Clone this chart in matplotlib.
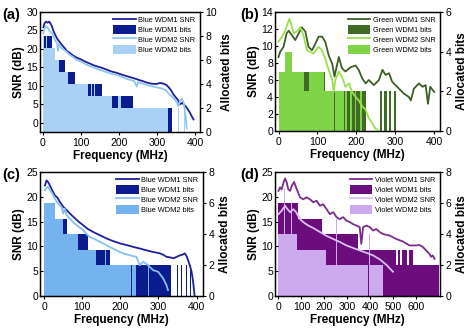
import matplotlib
matplotlib.use('Agg')
import matplotlib.pyplot as plt
from matplotlib.lines import Line2D
from matplotlib.patches import Patch

plt.rcParams['font.family'] = ['Liberation Sans', 'DejaVu Sans']

# (a) blue, two WDM channels
A_W1_FREQ = [2, 5, 9, 13, 17, 21, 24, 28, 32, 38, 45, 52, 58, 63, 70, 80, 90, 100, 107, 115,
             125, 133, 145, 155, 168, 180, 192, 203, 215, 228, 238, 250, 262, 273, 285, 299,
             308, 317, 325, 330, 337, 343, 350, 355, 360, 366, 372, 378, 385, 391, 396]
A_W1_SNR = [25.9, 27.0, 27.4, 27.1, 27.4, 26.8, 26.2, 25.0, 24.0, 22.8, 21.8, 20.9, 20.2, 19.5,
            19.0, 18.2, 17.6, 17.2, 16.8, 16.4, 16.0, 15.6, 15.2, 14.9, 14.4, 13.9, 13.6, 13.2,
            12.8, 12.4, 12.1, 11.7, 11.3, 10.9, 10.6, 10.5, 10.8, 10.6, 10.2, 9.7, 8.8, 7.7,
            6.8, 6.2, 5.0, 5.4, 4.8, 4.1, 3.0, 1.8, 0.9]
A_W2_FREQ = [2, 5, 9, 13, 17, 21, 25, 29, 33, 38, 40, 42, 48, 55, 63, 72, 80, 90, 100, 110,
             120, 133, 145, 155, 168, 180, 193, 205, 218, 230, 240, 247, 250, 262, 275, 290,
             300, 312, 322, 330, 338, 345, 352, 356, 360, 365, 370, 373, 376, 378]
A_W2_SNR = [24.3, 25.5, 26.2, 25.8, 25.0, 24.6, 24.2, 23.2, 22.3, 21.5, 19.5, 21.2, 20.4, 19.8,
            19.2, 18.3, 17.8, 17.0, 16.6, 16.0, 15.5, 15.0, 14.5, 14.2, 13.7, 13.3, 13.0, 12.5,
            12.0, 11.6, 11.3, 9.8, 11.0, 10.6, 10.2, 9.8, 9.6, 9.3, 8.9, 8.0, 7.2, 6.5, 5.6,
            4.5, 5.8, 6.5, 5.5, 3.5, 1.0, -1.5]
A_B1_EDGES = [0, 24, 32, 59, 85, 155, 238, 339]
A_B1_BITS = [8, 7, 6, 5, 4, 3, 2]
A_B2_EDGES = [0, 4, 10, 11.5, 16, 17.5, 32, 44, 47, 48.5, 67, 120, 128, 129.5, 135, 136.5,
              181, 197, 206, 330, 355, 357, 372, 374]
A_B2_BITS = [8, 7, 8, 7, 8, 7, 6, 5, 6, 5, 4, 3, 4, 3, 4, 3, 2, 3, 2, 0, 2, 0, 2]

# (b) green
B_W1_FREQ = [0, 4, 13, 21, 26, 34, 43, 52, 60, 69, 77, 86, 95, 103, 112, 120, 129, 138, 144,
             149, 155, 163, 172, 185, 198, 206, 215, 224, 232, 245, 258, 267, 275, 284, 292,
             305, 322, 335, 340, 348, 361, 370, 378, 384, 390, 400]
B_W1_SNR = [8.7, 9.3, 9.9, 11.5, 11.8, 11.3, 10.7, 11.5, 12.2, 11.7, 9.9, 9.5, 10.3, 11.1,
            11.1, 10.5, 8.9, 7.9, 6.4, 7.5, 8.7, 7.4, 7.0, 7.5, 7.7, 7.2, 6.2, 5.6, 6.0, 5.4,
            6.0, 7.2, 6.6, 6.8, 5.8, 5.2, 4.4, 4.0, 3.6, 5.0, 5.6, 5.2, 5.4, 3.2, 5.2, 4.6]
B_W2_FREQ = [0, 9, 17, 23, 28, 32, 39, 47, 56, 65, 73, 82, 90, 103, 112, 120, 129, 138, 142,
             146, 155, 163, 172, 181, 189, 198, 206, 215, 224, 232, 241, 249, 258]
B_W2_SNR = [10.5, 11.1, 11.8, 12.6, 13.2, 12.6, 11.5, 11.7, 12.2, 11.1, 9.5, 9.3, 9.1, 9.9,
            9.5, 8.5, 7.2, 6.0, 4.6, 6.0, 7.0, 6.4, 5.2, 5.6, 4.6, 4.0, 3.6, 2.9, 2.5, 1.5,
            0.9, 0.3, 0.0]
B_B1_EDGES = [0, 120, 224, 262, 267, 272, 278, 284, 290, 296, 302]
B_B1_BITS = [3, 2, 0, 2, 0, 2, 0, 2, 0, 2]
B_B2_EDGES = [0, 17, 34, 65, 78, 98, 100, 111, 113, 117, 142, 146, 168, 172, 176, 184, 188,
              196, 200, 210, 214, 224]
B_B2_BITS = [3, 4, 3, 2, 3, 2, 3, 2, 3, 2, 0, 2, 0, 2, 0, 2, 0, 2, 0, 2, 0]

# (c) blue, second link
C_W1_FREQ = [2, 6, 10, 15, 19, 28, 35, 41, 50, 59, 68, 76, 90, 102, 115, 129, 145, 164, 180,
             199, 215, 234, 250, 269, 285, 304, 313, 321, 330, 339, 348, 356, 362, 369, 374,
             378, 383, 387, 391, 395]
C_W1_SNR = [22.3, 23.3, 23.0, 22.3, 21.6, 20.3, 19.8, 19.0, 18.0, 17.3, 16.6, 16.0, 15.0,
            14.3, 13.5, 12.9, 12.3, 11.6, 11.1, 10.6, 10.3, 9.9, 9.6, 9.2, 8.9, 8.6, 8.3, 7.9,
            7.8, 7.6, 7.9, 8.2, 8.3, 8.6, 8.0, 7.2, 6.0, 4.9, 2.9, 0.0]
C_W2_FREQ = [2, 6, 10, 17, 24, 30, 37, 45, 50, 54, 59, 70, 80, 90, 102, 111, 120, 137, 155,
             172, 190, 207, 225, 242, 251, 260, 273, 286, 299, 312, 321, 325]
C_W2_SNR = [21.3, 21.8, 22.0, 21.2, 20.3, 19.4, 18.6, 18.0, 16.6, 17.6, 16.3, 15.4, 14.6,
            14.0, 13.3, 12.5, 11.9, 11.3, 10.6, 9.9, 9.2, 8.6, 8.2, 7.9, 6.2, 6.9, 6.2, 5.2,
            4.9, 3.6, 2.2, 1.2]
C_B1_EDGES = [0, 28, 59, 115, 172, 334, 340, 342, 350, 352, 360, 362, 372, 374, 383, 385]
C_B1_BITS = [6, 5, 4, 3, 2, 0, 2, 0, 2, 0, 2, 0, 2, 0, 2]
C_B2_EDGES = [0, 28, 50, 89, 137, 160, 163, 219, 221, 228, 231, 242, 272, 274]
C_B2_BITS = [6, 5, 4, 3, 2, 3, 2, 0, 2, 0, 2, 0, 2]

# (d) violet
D_W1_FREQ = [0, 7, 14, 22, 29, 36, 43, 51, 58, 68, 80, 94, 108, 123, 137, 152, 166, 181, 195,
             210, 224, 239, 253, 267, 282, 296, 311, 325, 340, 354, 361, 369, 383, 398, 412,
             426, 441, 455, 484, 513, 542, 571, 600, 614, 629, 643, 658, 665, 672, 680]
D_W1_SNR = [21.2, 21.9, 21.5, 22.9, 23.7, 22.9, 21.5, 21.2, 22.2, 23.0, 21.5, 19.9, 19.5,
            19.9, 19.5, 18.9, 19.2, 18.2, 18.5, 17.5, 16.5, 16.9, 15.9, 15.5, 15.9, 15.2,
            14.9, 14.5, 14.2, 13.9, 10.5, 13.9, 14.2, 13.9, 13.2, 13.5, 12.9, 12.5, 12.2,
            11.5, 11.0, 10.2, 10.2, 10.3, 9.9, 9.2, 8.5, 7.9, 8.2, 7.5]
D_W2_FREQ = [0, 14, 29, 36, 51, 65, 77, 94, 108, 130, 152, 181, 210, 239, 267, 296, 325, 354,
             383, 412, 441, 470, 499]
D_W2_SNR = [16.5, 17.2, 18.2, 17.7, 16.9, 17.5, 16.9, 15.5, 14.9, 14.2, 13.7, 12.9, 12.1,
            11.5, 10.9, 10.2, 9.7, 9.2, 8.7, 8.2, 7.4, 6.3, 4.9]
D_B1_EDGES = [0, 87, 188, 345, 513, 520, 530, 540, 560, 568, 585, 700]
D_B1_BITS = [6, 5, 4, 3, 2, 3, 2, 3, 2, 3, 2]
D_B2_EDGES = [0, 26, 29, 56, 60, 80, 205, 251, 255, 380, 382, 392, 395, 398, 455]
D_B2_BITS = [4, 7, 4, 6, 4, 3, 2, 5, 2, 0, 2, 0, 4, 2]


def draw_panel(fig, rect, tag, name, w1, w2, b1, b2, colors, xlim, xticks,
               ylim, yticks, y2lim, y2ticks, label_xy):
    ax = fig.add_axes(rect)
    ax2 = ax.twinx()
    # bits go behind the SNR traces
    ax.set_zorder(ax2.get_zorder() + 1)
    ax.patch.set_visible(False)

    ax2.stairs(b1[1], b1[0], fill=True, color=colors[1], linewidth=0)
    ax2.stairs(b2[1], b2[0], fill=True, color=colors[3], linewidth=0)
    ax.plot(w1[0], w1[1], color=colors[0], lw=1.3)
    ax.plot(w2[0], w2[1], color=colors[2], lw=1.3)

    ax.set_xlim(*xlim)
    ax.set_xticks(xticks)
    ax.set_ylim(*ylim)
    ax.set_yticks(yticks)
    ax2.set_ylim(*y2lim)
    ax2.set_yticks(y2ticks)

    ax.tick_params(axis='x', direction='out', length=2.5, labelsize=7.5, pad=1.5)
    ax.tick_params(axis='y', direction='in', length=2.5, labelsize=7.5, pad=1.5)
    ax2.tick_params(axis='y', direction='out', length=2.5, labelsize=7.5, pad=1.5)
    for a in (ax, ax2):
        for s in a.spines.values():
            s.set_linewidth(0.9)

    ax.set_xlabel('Frequency (MHz)', fontsize=8.5, fontweight='bold', labelpad=2)
    ax.set_ylabel('SNR (dB)', fontsize=8.5, fontweight='bold', labelpad=1)
    ax2.set_ylabel('Allocated bits', fontsize=8.5, fontweight='bold', labelpad=3)

    handles = [Line2D([], [], color=colors[0], lw=1.3),
               Patch(facecolor=colors[1], edgecolor='none'),
               Line2D([], [], color=colors[2], lw=1.3),
               Patch(facecolor=colors[3], edgecolor='none')]
    labels = [f'{name} WDM1 SNR', f'{name} WDM1 bits',
              f'{name} WDM2 SNR', f'{name} WDM2 bits']
    ax.legend(handles, labels, loc='upper right', bbox_to_anchor=(1.0, 1.01),
              frameon=False, fontsize=5.3, handlelength=3.0, handleheight=1.5,
              labelspacing=0.12, handletextpad=0.4, borderaxespad=0.2)

    fig.text(label_xy[0], label_xy[1], tag, fontsize=10.5, fontweight='bold',
             ha='left', va='center')


fig = plt.figure(figsize=(4.74, 3.31), dpi=100)
fig.patch.set_facecolor('white')

blue_a = ['#1f1f9e', '#0b1c8f', '#8ec5f2', '#a9d0f5']
green = ['#3d5f25', '#3f6b26', '#9be04c', '#80d447']
blue_c = ['#1f1f9e', '#0b1c8f', '#86c0f2', '#74b3ee']
violet = ['#7a2d8c', '#6b0d7d', '#dcc0f2', '#cdaaee']

draw_panel(fig, [0.0844, 0.6012, 0.3376, 0.3625], '(a)', 'Blue',
           (A_W1_FREQ, A_W1_SNR), (A_W2_FREQ, A_W2_SNR),
           (A_B1_EDGES, A_B1_BITS), (A_B2_EDGES, A_B2_BITS), blue_a,
           (-7, 413), [0, 100, 200, 300, 400], (-2.5, 30), [0, 5, 10, 15, 20, 25, 30],
           (0, 10), [0, 2, 4, 6, 8, 10], (0.004, 0.955))
draw_panel(fig, [0.5802, 0.6042, 0.3481, 0.3595], '(b)', 'Green',
           (B_W1_FREQ, B_W1_SNR), (B_W2_FREQ, B_W2_SNR),
           (B_B1_EDGES, B_B1_BITS), (B_B2_EDGES, B_B2_BITS), green,
           (-9, 415), [0, 100, 200, 300, 400], (0, 14), [0, 2, 4, 6, 8, 10, 12, 14],
           (0, 6), [0, 2, 4, 6], (0.506, 0.955))
draw_panel(fig, [0.0844, 0.1057, 0.3439, 0.3746], '(c)', 'Blue',
           (C_W1_FREQ, C_W1_SNR), (C_W2_FREQ, C_W2_SNR),
           (C_B1_EDGES, C_B1_BITS), (C_B2_EDGES, C_B2_BITS), blue_c,
           (-11, 417), [0, 100, 200, 300, 400], (0, 25), [0, 5, 10, 15, 20, 25],
           (0, 8), [0, 2, 4, 6, 8], (0.004, 0.472))
draw_panel(fig, [0.5802, 0.1057, 0.3481, 0.3746], '(d)', 'Violet',
           (D_W1_FREQ, D_W1_SNR), (D_W2_FREQ, D_W2_SNR),
           (D_B1_EDGES, D_B1_BITS), (D_B2_EDGES, D_B2_BITS), violet,
           (-15, 704), [0, 100, 200, 300, 400, 500, 600], (0, 25), [0, 5, 10, 15, 20, 25],
           (0, 8), [0, 2, 4, 6, 8], (0.506, 0.472))

fig.savefig('out.png', dpi=100, facecolor='white')
